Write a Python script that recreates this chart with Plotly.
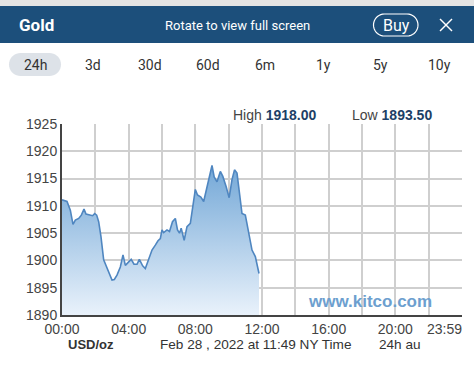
import math
import plotly.graph_objects as go

# ---- data ----
hours = [0.0, 0.15, 0.3, 0.5, 0.66, 0.8, 1.0, 1.16, 1.32, 1.44,
         1.66, 1.84, 1.96, 2.08, 2.2, 2.34, 2.5, 2.7, 2.84, 3.0,
         3.14, 3.3, 3.5, 3.66, 3.8, 3.96, 4.15, 4.32, 4.5, 4.64,
         4.84, 5.0, 5.2, 5.4, 5.6, 5.76, 5.9, 6.0, 6.1, 6.3,
         6.45, 6.63, 6.8, 6.93, 7.05, 7.15, 7.33, 7.5, 7.7, 7.85,
         8.0, 8.13, 8.33, 8.5, 8.65, 8.8, 9.0, 9.13, 9.3, 9.5,
         9.65, 9.85, 10.03, 10.2, 10.35, 10.5, 10.63, 10.8, 11.0, 11.2,
         11.4, 11.6, 11.82]
prices = [1911.1, 1911.0, 1910.8, 1909.2, 1906.6, 1907.4, 1907.7, 1908.3, 1909.4, 1908.5,
          1908.4, 1908.2, 1908.6, 1908.3, 1907.1, 1904.3, 1900.1, 1898.5, 1897.6, 1896.4,
          1896.5, 1897.3, 1898.8, 1901.0, 1899.1, 1899.6, 1900.2, 1899.3, 1899.3, 1900.2,
          1899.0, 1898.5, 1900.1, 1901.9, 1902.8, 1903.6, 1904.0, 1905.6, 1905.1, 1905.6,
          1905.3, 1907.1, 1907.7, 1905.6, 1905.0, 1905.9, 1903.7, 1906.2, 1906.8, 1909.6,
          1913.0, 1912.0, 1911.6, 1910.8, 1912.9, 1914.4, 1917.4, 1915.3, 1914.4, 1916.3,
          1915.4, 1913.5, 1911.5, 1914.8, 1916.6, 1916.0, 1912.3, 1908.6, 1908.3, 1905.0,
          1901.9, 1900.7, 1897.6]
x_tickvals = [0, 2, 4, 6, 8, 10, 12, 14, 16, 18, 20, 22, 24]
x_ticktext = ["00:00", "", "04:00", "", "08:00", "", "12:00", "", "16:00", "", "20:00", "", ""]
last_tick_label = "23:59"
y_tickvals = [1890, 1895, 1900, 1905, 1910, 1915, 1920, 1925]
tabs = ["24h", "3d", "30d", "60d", "6m", "1y", "5y", "10y"]
high_val = "1918.00"
low_val = "1893.50"

# ---- geometry helpers (pixel -> paper) ----
WIDTH, HEIGHT = 474, 372
ML, MR, MT, MB = 62, 12, 124, 57
PW = WIDTH - ML - MR
PH = HEIGHT - MT - MB


def px(x):
    return (x - ML) / PW


def py(y):
    return (HEIGHT - MB - y) / PH


def stadium(x0, y0, x1, y1):
    r = (y1 - y0) / 2
    cy = (y0 + y1) / 2
    cx = x1 - r
    path = f"M {px(x0 + r)} {py(y0)} L {px(x1 - r)} {py(y0)}"
    for i in range(1, 19):
        a = -math.pi / 2 + math.pi * i / 18
        path += f" L {px(cx + r * math.cos(a))} {py(cy + r * math.sin(a))}"
    path += f" L {px(x0 + r)} {py(y1)}"
    cx = x0 + r
    for i in range(1, 19):
        a = math.pi / 2 + math.pi * i / 18
        path += f" L {px(cx + r * math.cos(a))} {py(cy + r * math.sin(a))}"
    path += " Z"
    return path


fig = go.Figure()
fig.add_trace(go.Scatter(
    x=hours, y=prices, mode="lines",
    line=dict(color="#4f86c0", width=1.6),
    fill="tozeroy",
    fillgradient=dict(type="vertical", start=1890, stop=1918,
                      colorscale=[[0, "#e9f2fb"], [1, "#71a6d6"]]),
    hoverinfo="skip",
))

shapes = []
annotations = []
# top strip and header bar
shapes.append(dict(type="rect", xref="paper", yref="paper", x0=px(0), x1=px(WIDTH), y0=py(0), y1=py(6),
                   fillcolor="#e4e4e4", line=dict(width=0), layer="above"))
shapes.append(dict(type="rect", xref="paper", yref="paper", x0=px(0), x1=px(WIDTH), y0=py(6), y1=py(43),
                   fillcolor="#1c4f7b", line=dict(width=0), layer="above"))
# Buy button
shapes.append(dict(type="path", xref="paper", yref="paper", path=stadium(373.5, 14, 418, 36),
                   fillcolor="rgba(0,0,0,0)", line=dict(color="white", width=1.2), layer="above"))
# close X
shapes.append(dict(type="line", xref="paper", yref="paper", x0=px(440), x1=px(452), y0=py(19), y1=py(31),
                   line=dict(color="white", width=1.4), layer="above"))
shapes.append(dict(type="line", xref="paper", yref="paper", x0=px(440), x1=px(452), y0=py(31), y1=py(19),
                   line=dict(color="white", width=1.4), layer="above"))
# 24h pill
shapes.append(dict(type="path", xref="paper", yref="paper", path=stadium(9, 53, 61, 76),
                   fillcolor="#dde2e8", line=dict(width=0), layer="below"))

ui_font = "Roboto, Inter, sans-serif"
chart_font = "Liberation Sans, Arial, sans-serif"

annotations.append(dict(text="<b>Gold</b>", x=px(17), y=py(25), xanchor="left", yanchor="middle",
                        font=dict(family=ui_font, size=17, color="white")))
annotations.append(dict(text="Rotate to view full screen", x=px(237), y=py(25), xanchor="center", yanchor="middle",
                        font=dict(family=ui_font, size=13, color="white")))
annotations.append(dict(text="Buy", x=px(396), y=py(25.5), xanchor="center", yanchor="middle",
                        font=dict(family=ui_font, size=16, color="white")))

tab_x = [35, 93, 150, 208, 265, 323, 380, 439]
for t, tx in zip(tabs, tab_x):
    annotations.append(dict(text=t, x=px(tx), y=py(65), xanchor="center", yanchor="middle",
                            font=dict(family=ui_font, size=14, color="#333333")))

annotations.append(dict(text=f"High <b><span style='color:#1d3f66'>{high_val}</span></b>",
                        x=px(231), y=py(115), xanchor="left", yanchor="middle",
                        font=dict(family=chart_font, size=14, color="#444444")))
annotations.append(dict(text=f"Low <b><span style='color:#1d3f66'>{low_val}</span></b>",
                        x=px(350), y=py(115), xanchor="left", yanchor="middle",
                        font=dict(family=chart_font, size=14, color="#444444")))
annotations.append(dict(text="<b>www.kitco.com</b>", x=px(370), y=py(301), xanchor="center", yanchor="middle",
                        font=dict(family=chart_font, size=17, color="#6d9fcf")))
annotations.append(dict(text=last_tick_label, x=px(464), y=py(328.5), xanchor="right", yanchor="middle",
                        font=dict(family=chart_font, size=14, color="#444444")))
annotations.append(dict(text="<b>USD/oz</b>", x=px(66), y=py(344), xanchor="left", yanchor="middle",
                        font=dict(family=chart_font, size=13, color="#333333")))
annotations.append(dict(text="Feb 28 , 2022 at 11:49 NY Time", x=px(158), y=py(344), xanchor="left", yanchor="middle",
                        font=dict(family=chart_font, size=13.6, color="#333333")))
annotations.append(dict(text="24h au", x=px(400), y=py(344), xanchor="center", yanchor="middle",
                        font=dict(family=chart_font, size=13.6, color="#333333")))

for a in annotations:
    a.update(xref="paper", yref="paper", showarrow=False)

fig.update_layout(
    width=WIDTH, height=HEIGHT,
    margin=dict(l=ML, r=MR, t=MT, b=MB, pad=0),
    paper_bgcolor="white", plot_bgcolor="white",
    showlegend=False,
    shapes=shapes, annotations=annotations,
    xaxis=dict(range=[0, 24], tickmode="array", tickvals=x_tickvals, ticktext=x_ticktext,
               showgrid=True, gridcolor="#cfcfcf", gridwidth=1.5,
               showline=True, linecolor="#444444", linewidth=2, mirror=False,
               ticks="", ticklen=0, tickfont=dict(family=chart_font, size=14, color="#444444"),
               zeroline=False, fixedrange=True),
    yaxis=dict(range=[1890, 1925], tickmode="array", tickvals=y_tickvals,
               showgrid=True, gridcolor="#cfcfcf", gridwidth=1.5,
               showline=True, linecolor="#444444", linewidth=2,
               ticks="", tickfont=dict(family=chart_font, size=14, color="#444444"),
               zeroline=False, fixedrange=True),
)

fig.write_html("out.html", config={"displayModeBar": False},
               post_script="document.body.style.margin='0';document.body.style.padding='0';")
